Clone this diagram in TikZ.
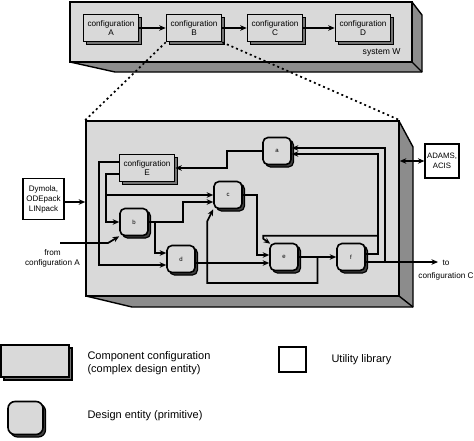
\documentclass[tikz,border=0pt]{standalone}
\usepackage{fontspec}
\setmainfont{Liberation Sans}
\usetikzlibrary{shadows,arrows.meta}

\begin{document}
\begin{tikzpicture}[x=1pt,y=-1pt,
    >={Stealth[length=6.5pt,width=5.5pt]},
    wire/.style={line width=1.7pt},
    dotline/.style={line width=1.7pt,dash pattern=on 2pt off 3pt},
    facet/.style={draw,line width=1.4pt,fill=black!45,line join=round},
    panel/.style={draw,line width=1.6pt,fill=black!15,inner sep=0pt},
    config/.style={rectangle,draw,line width=1.6pt,fill=black!15,inner sep=0pt,
      minimum width=55pt,minimum height=27pt,align=center,
      font=\fontsize{8.2}{9}\selectfont,
      copy shadow={shadow xshift=3pt,shadow yshift=-3pt,fill=black!55,draw=black,line width=1.2pt}},
    entity/.style={rectangle,rounded corners=5pt,draw,line width=1.6pt,fill=black!15,
      minimum width=28pt,minimum height=27pt,inner sep=0pt,
      font=\fontsize{6}{7}\selectfont,
      copy shadow={shadow xshift=2.5pt,shadow yshift=-2.5pt,fill=black!75,draw=black,line width=1.2pt}},
    util/.style={rectangle,draw,line width=1.2pt,fill=white,align=center,inner sep=0pt,
      font=\fontsize{8}{10}\selectfont},
    legtext/.style={anchor=west,align=left,font=\fontsize{11}{13}\selectfont},
  ]

      \useasboundingbox (0,0) rectangle (474,440);

      \path[facet] (412,2) -- (422,15) -- (422,72) -- (115,72) -- (70,62) -- (412,62) -- cycle;
      \draw[line width=1.4pt] (412,62) -- (422,72);
      \node[panel,minimum width=342pt,minimum height=60pt] (sysW) at (241,32) {};
      \node[anchor=east,font=\fontsize{8.6}{10}\selectfont] (sysWlabel) at (404,52) {system W};

      \path[facet] (399,121) -- (413,147) -- (413,307) -- (132,307) -- (86,296) -- (399,296) -- cycle;
      \draw[line width=1.4pt] (399,296) -- (413,307);
      \node[panel,minimum width=313pt,minimum height=175pt] (detail) at (242.5,208.5) {};

      \begin{scope}[every node/.style={config}]
        \node (A) at (111,28)  {configuration\\A};
        \node (B) at (194,28)  {configuration\\B};
        \node (C) at (275,28)  {configuration\\C};
        \node (D) at (363,28)  {configuration\\D};
        \node (E) at (147,168) {configuration\\E};
      \end{scope}

      \begin{scope}[every node/.style={entity}]
        \node (a) at (277,151) {a};
        \node (b) at (134,222) {b};
        \node (c) at (228,195) {c};
        \node (d) at (181,259) {d};
        \node (e) at (284,257) {e};
        \node (f) at (351,257) {f};
      \end{scope}

      \node[util,minimum width=41pt,minimum height=41pt] (dym) at (43.5,199) {Dymola,\\ODEpack\\LINpack};
      \node[util,minimum width=34pt,minimum height=34pt,font=\fontsize{7.8}{9.5}\selectfont] (adams) at (442,161) {ADAMS,\\ACIS};

      \node[align=center,font=\fontsize{8.2}{10.5}\selectfont] (fromA) at (52.5,258.5) {from\\configuration A};
      \node[align=center,font=\fontsize{8.2}{12.5}\selectfont] (toC) at (446,270) {to\\configuration C};
      \coordinate (inA) at (60,243);
      \coordinate (outC) at (438,262);

      \begin{scope}[every edge/.style={draw,wire,->}]
        \path (A) edge (B);
        \path (B) edge (C);
        \path (C) edge (D);
      \end{scope}

      \draw[dotline] (B.south west) -- (detail.north west);
      \draw[dotline] (B.south east) -- (detail.north east);

      \begin{scope}[wire,->]
        \draw ([yshift=-3pt]dym.east) -- ([yshift=-3pt]dym.east -| detail.west);
        \draw[<->] (adams.west) -- (adams.west -| detail.east);
        \draw (a.west) -- ++(-35,0) |- (E.east);
        \draw ([yshift=6pt]E.west) -- ++(-20,0) |- ([yshift=-6pt]d.west);
        \draw ([yshift=-6pt]E.west) -- ++(-13,0) coordinate (Eb) |- (b.west);
        \draw (Eb |- c.west) -- (c.west);
        \draw (b.east) -- ++(34,0) |- ([yshift=-7pt]c.west);
        \draw (b.east) -- ++(6,0) |- ([yshift=6pt]d.west);
        \draw (inA) -- ++(48,0) -- (b.south west);
        \draw ([yshift=-4pt]d.east) -- ([yshift=-4pt]d.east -| e.west);
        \draw (c.east) -- ++(14,0) |- ([yshift=2pt]e.west);
        \draw (e.east) -- (f.west) coordinate[pos=0.5] (ef);
        \draw (ef) -- ++(0,26) -| ([xshift=-6pt,yshift=-12pt]c.south west) -- (c.south west);
        \draw ([yshift=3pt]f.east) -- ++(12,0) coordinate (fa) |- ([yshift=-3pt]a.east);
        \draw (fa |- e.north) ++(0,-7) -| ([xshift=-6pt,yshift=4pt]e.north west) -- ([xshift=1pt,yshift=-1pt]e.north west);
        \draw ([yshift=-5pt]f.east) -- (outC);
        \draw ([yshift=-5pt]f.east) -- ++(19,0) |- ([yshift=3pt]a.east);
      \end{scope}

      \node[config,minimum width=68pt,minimum height=32pt] (legConf) at (35,361) {};
      \node[legtext] (legConfText) at (84,363.5) {Component configuration\\(complex design entity)};
      \node[util,minimum width=27pt,minimum height=25pt] (legUtil) at (292.5,359.5) {};
      \node[legtext] (legUtilText) at (328,360) {Utility library};
      \node[entity,minimum width=35pt,minimum height=33pt,rounded corners=7pt] (legEnt) at (25.5,418) {};
      \node[legtext] (legEntText) at (84,416) {Design entity (primitive)};

    \end{tikzpicture}
\end{document}
